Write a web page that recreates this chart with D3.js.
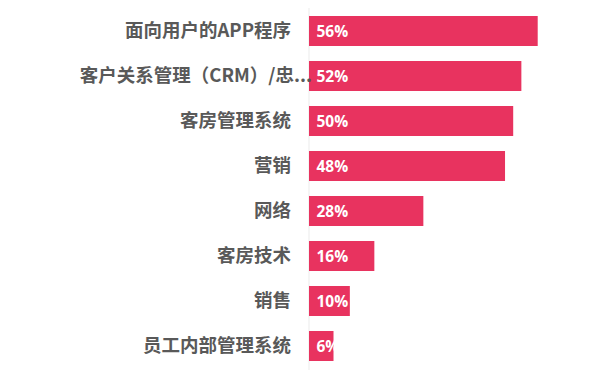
<html>
<head>
<meta charset="utf-8" />
<script src="https://cdn.jsdelivr.net/npm/d3@7/dist/d3.min.js"></script>
<style>
  body { margin: 0; background: #fff; }
  .cat { font-family: "Noto Sans CJK SC", "Noto Sans", sans-serif; font-weight: bold; font-size: 18.5px; fill: #595959; }
  .val { font-family: "Open Sans", "Noto Sans", sans-serif; font-weight: bold; font-size: 15.5px; fill: #fff; }
</style>
</head>
<body>
<script>
  // categories as shown on the chart (2nd one is cut off with "...")
  var categories = ["面向用户的APP程序", "客户关系管理（CRM）/忠", "客房管理系统", "营销", "网络", "客房技术", "销售", "员工内部管理系统"];
  var truncated = [false, true, false, false, false, false, false, false];
  var values = [56, 52, 50, 48, 28, 16, 10, 6];

  var width = 608, height = 379;
  var x0 = 309;

  var svg = d3.select("body").append("svg")
    .attr("width", width)
    .attr("height", height);

  var x = d3.scaleLinear().domain([0, 56]).range([x0, 537.7]);
  var y = d3.scaleBand()
    .domain(categories)
    .range([8.5, 368.5])
    .paddingInner(1 / 3)
    .paddingOuter(1 / 6);

  // faint baseline
  svg.append("line")
    .attr("x1", x0).attr("x2", x0)
    .attr("y1", 8).attr("y2", 370)
    .attr("stroke", "#ebebeb").attr("stroke-width", 1);

  var rows = svg.selectAll("g.row")
    .data(categories.map((c, i) => ({c: c, v: values[i], t: truncated[i]})))
    .enter().append("g").attr("class", "row");

  rows.append("rect")
    .attr("x", x(0))
    .attr("y", d => y(d.c))
    .attr("width", d => x(d.v) - x(0))
    .attr("height", y.bandwidth())
    .attr("fill", "#e8335f");

  rows.append("text")
    .attr("class", "val")
    .attr("x", x(0) + 7.5)
    .attr("y", d => y(d.c) + y.bandwidth() / 2)
    .attr("dy", "0.36em")
    .text(d => d.v + "%");

  rows.append("text")
    .attr("class", "cat")
    .attr("x", d => d.t ? x0 - 15 : x0 - 18)
    .attr("y", d => y(d.c) + y.bandwidth() / 2)
    .attr("dy", "0.35em")
    .attr("text-anchor", "end")
    .text(d => d.c);

  rows.filter(d => d.t).append("text")
    .attr("class", "cat")
    .attr("x", x0 - 15)
    .attr("y", d => y(d.c) + y.bandwidth() / 2)
    .attr("dy", "0.35em")
    .text("...");
</script>
</body>
</html>
